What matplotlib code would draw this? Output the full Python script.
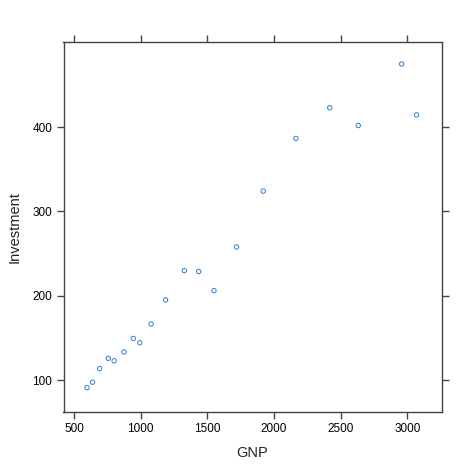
import matplotlib
matplotlib.use('Agg')
import matplotlib.pyplot as plt

# Investment vs GNP, 1963-1982
gnp = [596.7, 637.7, 691.1, 756.0, 799.6, 873.4, 944.0, 992.7, 1077.6, 1185.9,
       1326.4, 1434.2, 1549.2, 1718.0, 1918.3, 2163.9, 2417.8, 2631.7, 2957.8, 3069.3]
invest = [90.9, 97.4, 113.5, 125.7, 122.8, 133.3, 149.3, 144.2, 166.4, 195.0,
          229.8, 228.7, 206.1, 257.9, 324.1, 386.6, 423.0, 401.9, 474.9, 414.5]
xticks = [500, 1000, 1500, 2000, 2500, 3000]
yticks = [100, 200, 300, 400]

plt.rcParams['font.family'] = ['Liberation Sans', 'DejaVu Sans']

fig = plt.figure(figsize=(4.74, 4.73), dpi=100)
ax = fig.add_axes([63.5/474, (473-411.7)/473, (441.7-63.5)/474, (411.7-42)/473])
ax.scatter(gnp, invest, s=10, facecolors='none', edgecolors='#2f7fd0', linewidths=0.7)
ax.set_xlim(420, 3258)
ax.set_ylim(62.4, 501)
ax.set_xticks(xticks)
ax.set_yticks(yticks)
for s in ax.spines.values():
    s.set_color('#444444')
    s.set_linewidth(1.0)
ax.tick_params(direction='out', length=5, width=1, color='#444444', labelsize=8.5,
               top=True, right=True, labeltop=False, labelright=False, pad=3)
ax.set_xlabel('GNP', fontsize=10.5, color='#222222', labelpad=8)
ax.set_ylabel('Investment', fontsize=10.5, color='#222222', labelpad=8)
fig.savefig('out.png', dpi=100)
